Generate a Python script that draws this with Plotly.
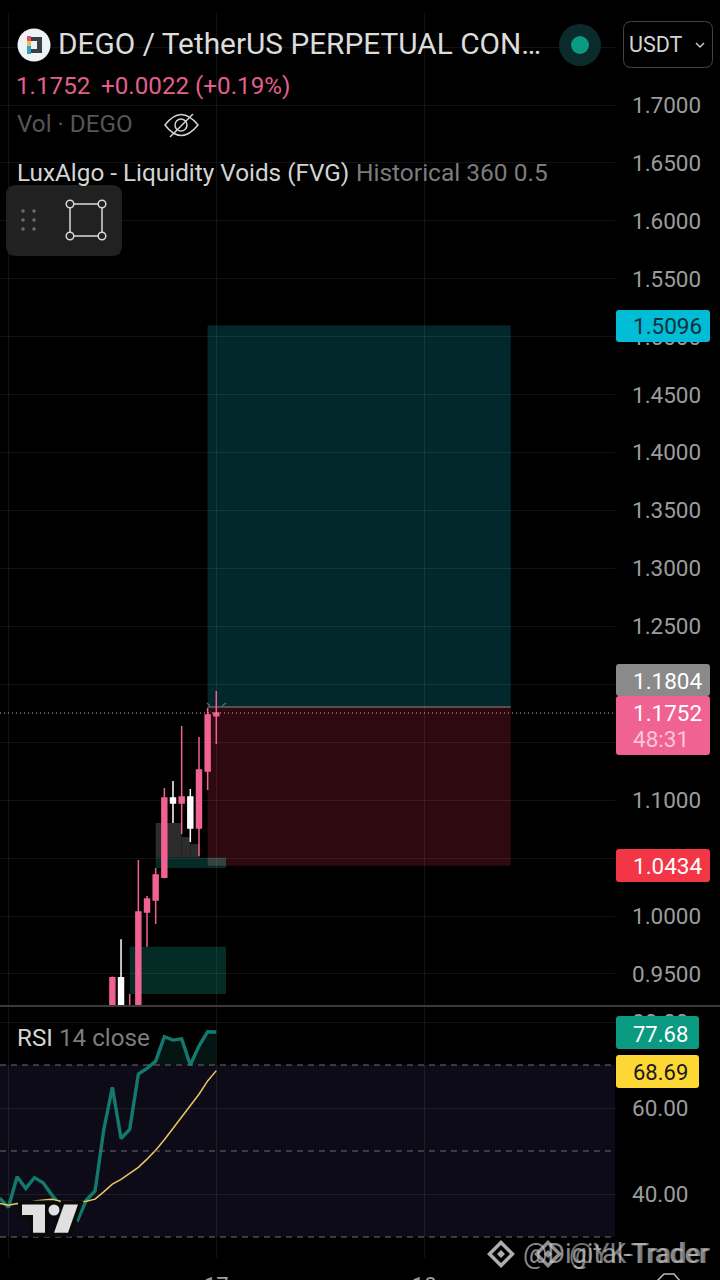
import plotly.graph_objects as go

# hourly bars, 0 is the last candle (17th 00:00)
candle_hours = [-12, -11, -10, -9, -8, -7, -6, -5, -4, -3, -2, -1, 0]
candle_open = [0.9100, 0.9468, 0.9000, 0.9150, 1.0035, 1.0138, 1.0334, 1.1019, 1.0976, 1.1027, 1.0760, 1.1252, 1.1728]
candle_high = [0.9477, 0.9799, 0.9327, 1.0484, 1.0173, 1.0414, 1.1105, 1.1165, 1.1640, 1.1096, 1.1545, 1.1796, 1.1942]
candle_low = [0.8900, 0.9000, 0.8900, 0.9000, 0.9735, 0.9931, 1.0325, 1.0803, 1.0708, 1.0639, 1.0518, 1.1088, 1.1485]
candle_close = [0.9468, 0.9150, 0.9200, 1.0035, 1.0147, 1.0354, 1.1019, 1.0976, 1.1027, 1.0760, 1.1260, 1.1735, 1.1752]

rsi_hours = list(range(-25, 1))
rsi_values = [39.0, 36.9, 44.0, 41.3, 43.8, 42.6, 39.8, 37.4, 35.5, 34.0, 38.6, 40.7, 54.9,
              64.8, 52.9, 55.0, 67.9, 69.2, 70.9, 76.6, 75.8, 76.1, 70.0, 74.4, 77.75, 77.68]
rsi_ma = [37.8, 37.4, 37.8, 37.7, 38.4, 38.6, 38.8, 38.3, 38.2, 38.2, 38.3, 38.8, 40.5,
          42.3, 43.4, 44.7, 46.2, 48.1, 50.2, 52.6, 55.3, 58.0, 60.5, 63.2, 66.3, 68.69]

price_ticks = [0.95, 1.0, 1.05, 1.1, 1.15, 1.2, 1.25, 1.3, 1.35, 1.4, 1.45, 1.5, 1.55, 1.6, 1.65, 1.7, 1.75]
price_labels = ["0.9500", "1.0000", "1.0500", "1.1000", "", "", "1.2500", "1.3000", "1.3500", "1.4000",
                "1.4500", "1.5000", "1.5500", "1.6000", "1.6500", "1.7000", ""]
rsi_ticks = [40, 60, 80]
rsi_labels = ["40.00", "60.00", "80.00"]
day_hours = [-24, 0, 24]
day_labels = ["", "17", "18"]

target_price = 1.5096
entry_price = 1.1804
stop_price = 1.0434
last_price = 1.1752

W, H = 720, 1280
PANE_RIGHT = 615
BAR_PX = 8.66
LAST_BAR_X = 216.3
PRICE_PX = 1158.6   # pixels per 1.0 of price
RSI_PX = 4.3        # pixels per rsi point

UP = "#f06292"
DOWN = "#ffffff"
FONT = "Roboto"


def px(x):
    return x / W


def py(y):
    return 1 - y / H


def path(points, close=True):
    s = "M " + " L ".join(f"{px(x)} {py(y)}" for x, y in points)
    return s + (" Z" if close else "")


def rounded(x0, y0, x1, y1, r):
    return (f"M {px(x0 + r)} {py(y0)} L {px(x1 - r)} {py(y0)} Q {px(x1)} {py(y0)} {px(x1)} {py(y0 + r)} "
            f"L {px(x1)} {py(y1 - r)} Q {px(x1)} {py(y1)} {px(x1 - r)} {py(y1)} "
            f"L {px(x0 + r)} {py(y1)} Q {px(x0)} {py(y1)} {px(x0)} {py(y1 - r)} "
            f"L {px(x0)} {py(y0 + r)} Q {px(x0)} {py(y0)} {px(x0 + r)} {py(y0)} Z")


def disc(cx, cy, r, fill, line=None, width=0):
    return dict(type="circle", xref="paper", yref="paper", x0=px(cx - r), x1=px(cx + r),
                y0=py(cy + r), y1=py(cy - r), fillcolor=fill, line=dict(color=line or fill, width=width))


def poly(d, fill="rgba(0,0,0,0)", line="rgba(0,0,0,0)", width=0):
    return dict(type="path", xref="paper", yref="paper", path=d, fillcolor=fill, line=dict(color=line, width=width))


def text(x, y, s, size, color, anchor="left"):
    return dict(xref="paper", yref="paper", x=px(x), y=py(y), text=s, showarrow=False, xanchor=anchor,
                yanchor="middle", font=dict(family=FONT, size=size, color=color), borderpad=0)


def zone(x0, x1, p0, p1, fill):
    return dict(type="rect", xref="x", yref="y", x0=x0, x1=x1, y0=p0, y1=p1, fillcolor=fill,
                line=dict(width=0), layer="below")


def binance_mark(cx, cy, color):
    marks = [poly(path([(cx, cy - 11.5), (cx + 11.5, cy), (cx, cy + 11.5), (cx - 11.5, cy)]), line=color, width=3.5),
             poly(path([(cx, cy - 4), (cx + 4, cy), (cx, cy + 4), (cx - 4, cy)]), fill=color)]
    return marks


candles = go.Candlestick(
    x=candle_hours, open=candle_open, high=candle_high, low=candle_low, close=candle_close,
    increasing=dict(line=dict(color=UP, width=1.5), fillcolor=UP),
    decreasing=dict(line=dict(color=DOWN, width=1.5), fillcolor=DOWN),
    whiskerwidth=0, xaxis="x", yaxis="y", showlegend=False, hoverinfo="skip",
)

# area between the rsi line and the 70 level
rsi_floor = go.Scatter(x=rsi_hours, y=[70] * len(rsi_hours), mode="lines", line=dict(width=0),
                       xaxis="x2", yaxis="y2", showlegend=False, hoverinfo="skip")
rsi_above = go.Scatter(x=rsi_hours, y=[max(v, 70) for v in rsi_values], mode="lines", line=dict(width=0),
                       fill="tonexty", fillcolor="rgba(18,122,109,0.16)", xaxis="x2", yaxis="y2",
                       showlegend=False, hoverinfo="skip")
rsi_line = go.Scatter(x=rsi_hours, y=rsi_values, mode="lines", line=dict(color="#127a6d", width=3.4),
                      xaxis="x2", yaxis="y2", showlegend=False, hoverinfo="skip")
ma_line = go.Scatter(x=rsi_hours, y=rsi_ma, mode="lines", line=dict(color="#e9c85f", width=1.5),
                     xaxis="x2", yaxis="y2", showlegend=False, hoverinfo="skip")

fig = go.Figure(data=[rsi_floor, rsi_above, rsi_line, ma_line, candles])

shapes = [
    # position box
    zone(-1, 34, entry_price, target_price, "#03282c"),
    zone(-1, 34, stop_price, entry_price, "#2e0a10"),
    dict(type="line", xref="x", yref="y", x0=-1, x1=34, y0=entry_price, y1=entry_price,
         line=dict(color="#9a8488", width=1), layer="below"),
    # liquidity voids
    zone(-10, 1.12, 0.9327, 0.9735, "rgba(8,70,62,0.62)"),
    zone(-7, 1.12, 1.0414, 1.0503, "rgba(8,70,62,0.62)"),
    zone(-7, -4, 1.0503, 1.0803, "#2c2c2c"),
    zone(-4, -3, 1.0503, 1.0682, "#2c2c2c"),
    zone(-3, -1.9, 1.0503, 1.0621, "#2c2c2c"),
    zone(-1, 1.12, 1.0434, 1.0503, "rgba(90,90,90,0.45)"),
    # last price line
    dict(type="line", xref="x", yref="y", x0=-24.98, x1=46.04, y0=last_price, y1=last_price,
         line=dict(color="#d0b0bc", width=1, dash="1px,3px")),
    # rsi band and levels
    dict(type="rect", xref="x2", yref="y2", x0=-24.98, x1=46.04, y0=30, y1=70, fillcolor="#0e0b18",
         line=dict(width=0), layer="below"),
    # pane separator
    poly(path([(0, 1006), (W, 1006)], close=False), line="#3a3a3a", width=2),
]
for level in [30, 50, 70]:
    shapes.append(dict(type="line", xref="x2", yref="y2", x0=-24.98, x1=46.04, y0=level, y1=level,
                       line=dict(color="#6e6e6e", width=1, dash="6px,5px")))

# small chevrons at the top of the position box
shapes.append(poly(path([(207, 703), (210, 706)], close=False), line="#4f7470", width=1.2))
shapes.append(poly(path([(226, 703), (222, 706)], close=False), line="#4f7470", width=1.2))

# header icons
shapes.append(disc(34, 45, 16.5, "#eef3f5"))
shapes.append(poly(path([(27, 37), (42, 37), (42, 53), (27, 53), (27, 49), (37, 49), (37, 41), (27, 41)]), fill="#3a3f4a"))
shapes.append(poly(path([(27, 36), (31, 36), (31, 41), (27, 41)]), fill="#e0506a"))
shapes.append(poly(path([(27, 41), (31, 41), (31, 46), (27, 46)]), fill="#e8c04a"))
shapes.append(poly(path([(27, 46), (31, 46), (31, 54), (27, 54)]), fill="#2fa3c4"))
shapes.append(disc(580, 45, 21, "#0a2a2b"))
shapes.append(disc(580, 45, 9, "#0a9981"))
shapes.append(poly(rounded(623.5, 21.5, 712.5, 67.5, 8), line="#454545", width=1))
shapes.append(poly(path([(696, 43), (700, 47), (704, 43)], close=False), line="#c8c8c8", width=1.5))

# hidden volume eye
shapes.append(poly(f"M {px(165)} {py(125)} Q {px(181)} {py(104)} {px(198)} {py(125)} "
                   f"Q {px(181)} {py(146)} {px(165)} {py(125)} Z", line="#d4d4d4", width=1.5))
shapes.append(disc(181, 125, 6, "rgba(0,0,0,0)", "#d4d4d4", 1.5))
shapes.append(poly(path([(170, 137), (193, 114)], close=False), line="#d4d4d4", width=1.5))

# drawing toolbar
shapes.append(poly(rounded(6, 185, 122, 256, 10), fill="#212121"))
for dot_x in [23, 34]:
    for dot_y in [211, 220, 229]:
        shapes.append(disc(dot_x, dot_y, 1.8, "#6a6a6a"))
shapes.append(poly(path([(70, 204), (102, 204), (102, 236), (70, 236)]), line="#d8d8d8", width=1.5))
for corner_x in [70, 102]:
    for corner_y in [204, 236]:
        shapes.append(disc(corner_x, corner_y, 3.8, "#212121", "#d8d8d8", 1.5))

# price scale labels
label_boxes = [(616, 310, 710, 342, "#00bcd4"), (616, 664, 710, 696, "#8a8a8a"),
               (616, 696, 710, 755, "#f06292"), (616, 849, 710, 882, "#f23645"),
               (616, 1016, 699, 1049, "#0a9981"), (616, 1055, 699, 1088, "#fdd835")]
for x0, y0, x1, y1, fill in label_boxes:
    shapes.append(poly(rounded(x0, y0, x1, y1, 3), fill=fill))

# tradingview logo, dark halo first and the solid glyph on top
logo_t = path([(22, 1204.5), (45, 1204.5), (45, 1232.7), (33, 1232.7), (33, 1215), (22, 1215)])
logo_slash = path([(64, 1204.5), (78, 1204.5), (68, 1232.7), (54, 1232.7)])
shapes.append(poly(logo_t, fill="#0a0a0a", line="#0a0a0a", width=8))
shapes.append(poly(logo_slash, fill="#0a0a0a", line="#0a0a0a", width=8))
shapes.append(disc(54, 1210, 5.5, "#0a0a0a", "#0a0a0a", 8))
shapes.append(poly(logo_t, fill="#e0e0e0"))
shapes.append(poly(logo_slash, fill="#e0e0e0"))
shapes.append(disc(54, 1210, 5.5, "#e0e0e0"))

# watermarks and the icon cut off at the bottom
shapes += binance_mark(501, 1254, "rgba(205,205,205,0.85)")
shapes += binance_mark(548, 1254, "rgba(205,205,205,0.7)")
shapes.append(poly(path([(657, 1281), (664, 1274), (674, 1274), (680, 1281)], close=False), line="#bdbdbd", width=1.5))

annotations = [
    text(57, 43.5, "DEGO / TetherUS PERPETUAL CON…", 29.8, "#dcdcdc"),
    text(628, 44, "USDT", 21.5, "#d4d4d4"),
    text(15, 86, "1.1752", 24.2, "#e0608a"),
    text(100, 86, "+0.0022 (+0.19%)", 24.2, "#e0608a"),
    text(16, 124, "Vol · DEGO", 24.2, "#565656"),
    text(16, 172, "LuxAlgo - Liquidity Voids (FVG)", 24.3, "#d4d4d4"),
    text(355, 172, "Historical 360 0.5", 24.5, "#7c7c7c"),
    text(632, 326, "1.5096", 22.5, "#10303a"),
    text(632, 681, "1.1804", 22.5, "#ffffff"),
    text(632, 713, "1.1752", 22.5, "#ffffff"),
    text(632, 739, "48:31", 22.5, "#fbc6d8"),
    text(632, 866, "1.0434", 22.5, "#ffffff"),
    text(16, 1038, "RSI", 24.2, "#d4d4d4"),
    text(58, 1038, "14 close", 24.2, "#7c7c7c"),
    text(632, 1034, "77.68", 22, "#ffffff"),
    text(632, 1072, "68.69", 22, "#1a1a1a"),
    text(522, 1254, "@Digital-Trader", 27, "rgba(200,200,200,0.7)"),
    text(568, 1254, "@YK-Trader", 27, "rgba(200,200,200,0.6)"),
    # plotly drops the tick label that hangs over the left edge
    text(10, 1288, "16", 22, "#9c9c9c", anchor="center"),
]

grid = "rgba(255,255,255,0.07)"
fig.update_layout(
    width=W, height=H, margin=dict(l=0, r=0, t=0, b=0),
    paper_bgcolor="#000000", plot_bgcolor="#000000", showlegend=False, boxgap=0.19,
    font=dict(family=FONT, size=22, color="#9c9c9c"),
    shapes=shapes, annotations=annotations,
    xaxis=dict(domain=[0, PANE_RIGHT / W], range=[-LAST_BAR_X / BAR_PX, (PANE_RIGHT - LAST_BAR_X) / BAR_PX],
               tickvals=day_hours, ticktext=["", "", ""], showgrid=True, gridcolor=grid, zeroline=False,
               rangeslider=dict(visible=False), anchor="y", ticks="", automargin=False),
    yaxis=dict(domain=[py(1005), py(13)], side="right", anchor="x", automargin=False,
               range=[1.7 - 900 / PRICE_PX, 1.7 + 92 / PRICE_PX], tickvals=price_ticks, ticktext=price_labels,
               showgrid=True, gridcolor=grid, zeroline=False, ticklabelstandoff=16,
               tickfont=dict(family=FONT, size=22.5, color="#9c9c9c")),
    xaxis2=dict(domain=[0, PANE_RIGHT / W], range=[-LAST_BAR_X / BAR_PX, (PANE_RIGHT - LAST_BAR_X) / BAR_PX],
                tickvals=day_hours, ticktext=day_labels, showgrid=True, gridcolor=grid, zeroline=False,
                anchor="y2", ticklabelstandoff=12, automargin=False,
                tickfont=dict(family=FONT, size=22, color="#9c9c9c")),
    yaxis2=dict(domain=[py(1258), py(1007)], side="right", anchor="x2", automargin=False,
                range=[60 - 150 / RSI_PX, 60 + 101 / RSI_PX], tickvals=rsi_ticks, ticktext=rsi_labels,
                showgrid=True, gridcolor="rgba(255,255,255,0.07)", zeroline=False, ticklabelstandoff=16,
                tickfont=dict(family=FONT, size=22.5, color="#9c9c9c")),
)

fig.write_html("out.html", config=dict(displayModeBar=False),
               post_script="document.body.style.margin='0';document.body.style.overflow='hidden';")
